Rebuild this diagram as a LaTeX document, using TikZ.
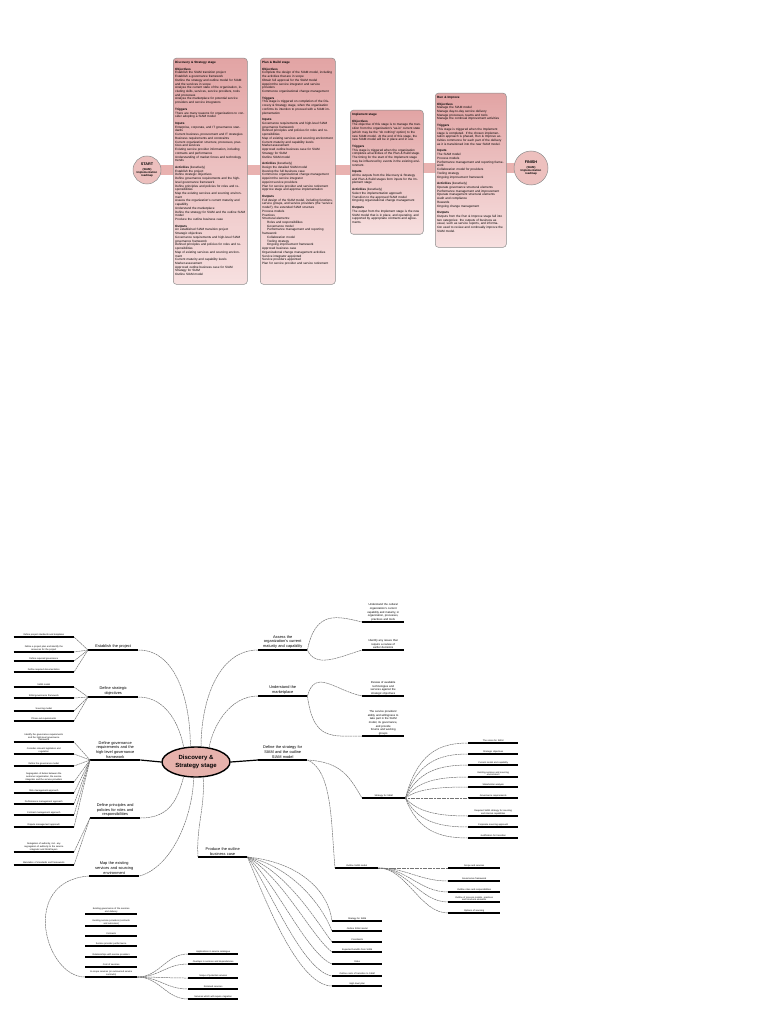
\documentclass[tikz,border=0pt]{standalone}
\usepackage{fontspec}
\setmainfont{Liberation Sans}
\usetikzlibrary{positioning, shapes.geometric, calc}
\pgfdeclarelayer{background}
\pgfsetlayers{background,main}

\definecolor{boxtop}{RGB}{226,164,164}
\definecolor{boxbot}{RGB}{247,224,224}
\definecolor{circfill}{RGB}{237,192,190}
\definecolor{bandfill}{RGB}{233,178,176}
\definecolor{hubfill}{RGB}{230,178,172}

\tikzset{
  stagebox/.style={draw=black!45, line width=0.5pt, rounded corners=3pt, top color=boxtop, bottom color=boxbot, anchor=north west, inner sep=0pt},
  stagetext/.style={anchor=north west, text width=#1, align=left, inner sep=0pt, font=\fontsize{3.1}{3.72}\selectfont},
  endpoint/.style={circle, draw=black!45, line width=0.5pt, fill=circfill, align=center, inner sep=0pt, font=\bfseries\fontsize{2.8}{3.3}\selectfont},
  band/.style={draw=black!40, line width=0.4pt, double=bandfill, double distance=10pt},
  link/.style={draw=black!55, line width=0.5pt, dash pattern=on 2pt off 0.6pt},
  uline/.style={draw=black, line width=1.6pt},
  subline/.style={draw=black, line width=1.3pt},
  topic/.style={text width=#1, align=center, inner xsep=0pt, inner ysep=1.2pt, font=\fontsize{3.9}{4.8}\selectfont, append after command={(\tikzlastnode.south west) edge[uline] (\tikzlastnode.south east)}},
  leaf/.style={text width=#1, align=center, inner xsep=0pt, inner ysep=0.9pt, font=\fontsize{2.3}{2.8}\selectfont, append after command={(\tikzlastnode.south west) edge[subline] (\tikzlastnode.south east)}},
  bigleaf/.style={leaf=#1, font=\fontsize{2.8}{3.6}\selectfont},
}

\begin{document}
\begin{tikzpicture}[x=1pt, y=-1pt]
    \begin{pgfonlayer}{background}
        \path[use as bounding box, fill=white] (0,0) rectangle (768,1024);
    \end{pgfonlayer}

    % Lộ trình: bốn giai đoạn
    \node[endpoint, minimum size=28pt] (start) at (147,170) {{\fontsize{3.8}{4.4}\selectfont START}\\[1.5pt](SIAM)\\Implementation\\roadmap};
    \node[stagebox, minimum width=74pt, minimum height=226pt] (ds) at (173,58) {};
    \node[stagebox, minimum width=75pt, minimum height=226pt] (pb) at (260,58) {};
    \node[stagebox, minimum width=73pt, minimum height=124pt] (im) at (350,110) {};
    \node[stagebox, minimum width=71pt, minimum height=154pt] (ri) at (435,93) {};
    \node[endpoint, minimum size=34pt] (finish) at (531,168) {{\fontsize{3.8}{4.4}\selectfont FINISH}\\[1.5pt](SIAM)\\Implementation\\roadmap};

    \begin{pgfonlayer}{background}
        \draw[band] (start.center) -- (start.center -| ds.center);
        \draw[band] (ds.center |- start.center) -- (pb.center |- start.center);
        \draw[band] (pb.center |- start.center) -- (im.center |- start.center);
        \draw[band] (im.center |- finish.center) -- (ri.center |- finish.center);
        \draw[band] (ri.center |- finish.center) -- (finish.center);
    \end{pgfonlayer}

    \node[stagetext=70pt] (dstext) at ([shift={(2,3)}]ds.north west) {\textbf{Discovery \& Strategy stage}\\[3pt]
        \textbf{Objectives}\\
        Establish the SIAM transition project\\
        Establish a governance framework\\
        Outline the strategy and outline model for SIAM and the services in scope\\
        Analyse the current state of the organization, including skills, services, service providers, tools and processes\\
        Analyse the marketplace for potential service providers and service integrators\\[3pt]
        \textbf{Triggers}\\
        There are many reasons for organizations to consider adopting a SIAM model\\[3pt]
        \textbf{Inputs}\\
        Enterprise, corporate, and IT governance standards\\
        Current business, procurement and IT strategies\\
        Business requirements and constraints\\
        Current organization structure, processes, practices and services\\
        Existing service provider information, including contracts and performance\\
        Understanding of market forces and technology trends\\[3pt]
        \textbf{Activities} (iteratively)\\
        Establish the project\\
        Define strategic objectives\\
        Define governance requirements and the high-level governance framework\\
        Define principles and policies for roles and responsibilities\\
        Map the existing services and sourcing environment\\
        Assess the organization's current maturity and capability\\
        Understand the marketplace\\
        Define the strategy for SIAM and the outline SIAM model\\
        Produce the outline business case\\[3pt]
        \textbf{Outputs}\\
        An established SIAM transition project\\
        Strategic objectives\\
        Governance requirements and high-level SIAM governance framework\\
        Defined principles and policies for roles and responsibilities\\
        Map of existing services and sourcing environment\\
        Current maturity and capability levels\\
        Market assessment\\
        Approved outline business case for SIAM\\
        Strategy for SIAM\\
        Outline SIAM model};

    \node[stagetext=71pt] (pbtext) at ([shift={(2,3)}]pb.north west) {\textbf{Plan \& Build stage}\\[3pt]
        \textbf{Objectives}\\
        Complete the design of the SIAM model, including the activities that are in scope\\
        Obtain full approval for the SIAM model\\
        Appoint the service integrator and service providers\\
        Commence organizational change management\\[3pt]
        \textbf{Triggers}\\
        This stage is triggered on completion of the Discovery \& Strategy stage, when the organization confirms its intention to proceed with a SIAM implementation\\[3pt]
        \textbf{Inputs}\\
        Governance requirements and high-level SIAM governance framework\\
        Defined principles and policies for roles and responsibilities\\
        Map of existing services and sourcing environment\\
        Current maturity and capability levels\\
        Market assessment\\
        Approved outline business case for SIAM\\
        Strategy for SIAM\\
        Outline SIAM model\\[3pt]
        \textbf{Activities} (iteratively)\\
        Design the detailed SIAM model\\
        Develop the full business case\\
        Commence organizational change management\\
        Appoint the service integrator\\
        Appoint service providers\\
        Plan for service provider and service retirement\\
        Approve stage and approve implementation\\[3pt]
        \textbf{Outputs}\\
        Full design of the SIAM model, including functions, service groups, and service providers (the ``service model''), the extended SIAM structure\\
        Process models\\
        Practices\\
        Structural elements:\\
        \hspace*{5pt}Roles and responsibilities\\
        \hspace*{5pt}Governance model\\
        \hspace*{5pt}Performance management and reporting framework\\
        \hspace*{5pt}Collaboration model\\
        \hspace*{5pt}Tooling strategy\\
        \hspace*{5pt}Ongoing improvement framework\\
        Approved business case\\
        Organizational change management activities\\
        Service integrator appointed\\
        Service providers appointed\\
        Plan for service provider and service retirement};

    \node[stagetext=69pt] (imtext) at ([shift={(2,3)}]im.north west) {\textbf{Implement stage}\\[3pt]
        \textbf{Objectives}\\
        The objective of this stage is to manage the transition from the organization's ``as-is'' current state (which may be the ``do nothing'' option) to the new SIAM model. At the end of this stage, the new SIAM model will be in place and in use.\\[3pt]
        \textbf{Triggers}\\
        This stage is triggered when the organization completes all activities of the Plan \& Build stage. The timing for the start of the Implement stage may be influenced by events in the existing environment.\\[3pt]
        \textbf{Inputs}\\
        All the outputs from the Discovery \& Strategy and Plan \& Build stages form inputs for the Implement stage\\[3pt]
        \textbf{Activities} (iteratively)\\
        Select the implementation approach\\
        Transition to the approved SIAM model\\
        Ongoing organizational change management\\[3pt]
        \textbf{Outputs}\\
        The output from the Implement stage is the new SIAM model that is in place, and operating, and supported by appropriate contracts and agreements.};

    \node[stagetext=67pt] (ritext) at ([shift={(2,3)}]ri.north west) {\textbf{Run \& Improve}\\[3pt]
        \textbf{Objectives}\\
        Manage the SIAM model\\
        Manage day-to-day service delivery\\
        Manage processes, teams and tools\\
        Manage the continual improvement activities\\[3pt]
        \textbf{Triggers}\\
        This stage is triggered when the Implement stage is completed. If the chosen implementation approach is phased, Run \& Improve activities commence for each part of the delivery as it is transitioned into the new SIAM model.\\[3pt]
        \textbf{Inputs}\\
        The SIAM model\\
        Process models\\
        Performance management and reporting framework\\
        Collaboration model for providers\\
        Tooling strategy\\
        Ongoing improvement framework\\[3pt]
        \textbf{Activities} (iteratively)\\
        Operate governance structural elements\\
        Performance management and improvement\\
        Operate management structural elements\\
        Audit and compliance\\
        Rewards\\
        Ongoing change management\\[3pt]
        \textbf{Outputs}\\
        Outputs from the Run \& Improve stage fall into two categories: the outputs of business as usual, such as service reports, and information used to review and continually improve the SIAM model.};

    % Sơ đồ tư duy: giai đoạn Discovery & Strategy
    \node[ellipse, draw, line width=1.4pt, fill=hubfill, minimum width=68pt, minimum height=30pt, inner sep=0pt, align=center, font=\bfseries\fontsize{6}{7.6}\selectfont] (hub) at (196,762) {Discovery \&\\Strategy stage};

    \node[topic=50pt, anchor=south west] (ep) at (88,650) {Establish the project};
    \node[topic=50pt, anchor=south west] (dso) at (88,697) {Define strategic\\objectives};
    \node[topic=50pt, anchor=south west] (dgr) at (90,760) {Define governance\\requirements and the\\high-level governance\\framework};
    \node[topic=50pt, anchor=south west] (dpp) at (90,818) {Define principles and\\policies for roles and\\responsibilities};
    \node[topic=50pt, anchor=south west] (mes) at (89,876) {Map the existing\\services and sourcing\\environment};
    \node[topic=49pt, anchor=south west] (aoc) at (258,650) {Assess the\\organization's current\\maturity and capability};
    \node[topic=49pt, anchor=south west] (utm) at (258,696) {Understand the\\marketplace};
    \node[topic=49pt, anchor=south west] (dsm) at (258,760) {Define the strategy for\\SIAM and the outline\\SIAM model};
    \node[topic=49pt, anchor=south west] (pob) at (198,857) {Produce the outline\\business case};

    \draw[link] (ep.south east) .. controls +(38,0) and +(0,-45) .. (hub.110);
    \draw[link] (dso.south east) .. controls +(28,0) and +(-4,-22) .. (hub.130);
    \draw[uline, line width=1.2pt] (dgr.south east) -- (hub.west);
    \draw[link] (dpp.south east) .. controls +(30,0) and +(-6,22) .. (hub.230);
    \draw[link] (mes.south east) .. controls +(30,-8) and +(-2,45) .. (hub.262);
    \draw[link] (pob.south west) .. controls +(-2,-30) and +(2,30) .. (hub.295);
    \draw[link] (aoc.south west) .. controls +(-40,0) and +(0,-45) .. (hub.72);
    \draw[link] (utm.south west) .. controls +(-28,0) and +(4,-22) .. (hub.48);
    \draw[uline, line width=1.2pt] (hub.east) -- (dsm.south west);

    % Establish the project
    \node[leaf=60pt, anchor=south east] (ep1) at (74,637) {Define project standards and templates};
    \node[leaf=60pt, anchor=south east] (ep2) at (74,652) {Define a project plan and identify the\\resources for the project};
    \node[leaf=60pt, anchor=south east] (ep3) at (74,661) {Define required governance};
    \node[leaf=60pt, anchor=south east] (ep4) at (74,672) {Define required documentation};
    \draw[link] (ep.south west) -- (ep1.south east);
    \draw[link] (ep.south west) -- (ep2.south east);
    \draw[link] (ep.south west) -- (ep3.south east);
    \draw[link] (ep.south west) -- (ep4.south east);

    % Define strategic objectives
    \node[leaf=60pt, anchor=south east] (so1) at (74,687) {SIAM model};
    \node[leaf=60pt, anchor=south east] (so2) at (74,698) {SIAM governance framework};
    \node[leaf=60pt, anchor=south east] (so3) at (74,711) {Sourcing model};
    \node[leaf=60pt, anchor=south east] (so4) at (74,721) {Phase-out requirements};
    \draw[link] (dso.south west) -- (so1.south east);
    \draw[link] (dso.south west) -- (so2.south east);
    \draw[link] (dso.south west) -- (so3.south east);
    \draw[link] (dso.south west) -- (so4.south east);

    % Define governance requirements
    \node[leaf=60pt, anchor=south east] (gr1) at (74,742) {Identify the governance requirements\\and the high-level governance\\framework};
    \node[leaf=60pt, anchor=south east] (gr2) at (74,754) {Consider relevant legislation and\\regulation};
    \node[leaf=60pt, anchor=south east] (gr3) at (74,766) {Define the governance model};
    \node[leaf=60pt, anchor=south east] (gr4) at (74,782) {Segregation of duties between the\\customer organization, the service\\integrator and the service providers};
    \node[leaf=60pt, anchor=south east] (gr5) at (74,793) {Risk management approach};
    \node[leaf=60pt, anchor=south east] (gr6) at (74,804) {Performance management approach};
    \node[leaf=60pt, anchor=south east] (gr7) at (74,815) {Contract management approach};
    \node[leaf=60pt, anchor=south east] (gr8) at (74,827) {Dispute management approach};
    \draw[link] (dgr.south west) -- (gr1.south east);
    \draw[link] (dgr.south west) -- (gr2.south east);
    \draw[link] (dgr.south west) -- (gr3.south east);
    \draw[link] (dgr.south west) -- (gr4.south east);
    \draw[link] (dgr.south west) -- (gr5.south east);
    \draw[link] (dgr.south west) -- (gr6.south east);
    \draw[link] (dgr.south west) -- (gr7.south east);
    \draw[link] (dgr.south west) -- (gr8.south east);

    % Define principles and policies
    \node[leaf=60pt, anchor=south east] (pp1) at (74,852) {Delegation of authority, incl. any\\segregation of authority to the service\\integrator and SIAM layers};
    \node[leaf=60pt, anchor=south east] (pp2) at (74,865) {Mandation of standards and frameworks};
    \draw[link] (dpp.south west) -- (pp1.south east);
    \draw[link] (dpp.south west) -- (pp2.south east);

    % Map the existing services
    \node[leaf=52pt, anchor=south west] (ms1) at (85,914) {Existing governance of the services\\and delivery};
    \node[leaf=52pt, anchor=south west] (ms2) at (85,926) {Existing service providers (contracts\\and outcomes)};
    \node[leaf=52pt, anchor=south west] (ms3) at (85,936) {Contracts};
    \node[leaf=52pt, anchor=south west] (ms4) at (85,946) {Service provider performance};
    \node[leaf=52pt, anchor=south west] (ms5) at (85,957) {Relationships with service providers};
    \node[leaf=52pt, anchor=south west] (ms6) at (85,967) {Cost of services};
    \node[leaf=52pt, anchor=south west] (isv) at (85,977) {In-scope services (or outsourced service\\contracts)};
    \draw[link] (mes.south west) .. controls +(-70,5) and +(-40,0) .. (isv.south west);

    \node[leaf=50pt, anchor=south west] (is1) at (188,954) {Applications in service catalogue};
    \node[leaf=50pt, anchor=south west] (is2) at (188,964) {Overlaps in services and dependencies};
    \node[leaf=50pt, anchor=south west] (is3) at (188,978) {Scope of potential services};
    \node[leaf=50pt, anchor=south west] (is4) at (188,989) {Retained services};
    \node[leaf=50pt, anchor=south west] (is5) at (188,999) {Services which will require migration};
    \draw[link] (isv.south east) .. controls +(22,0) and +(-22,0) .. (is1.south west);
    \draw[link] (isv.south east) .. controls +(22,0) and +(-22,0) .. (is2.south west);
    \draw[link] (isv.south east) .. controls +(22,0) and +(-22,0) .. (is3.south west);
    \draw[link] (isv.south east) .. controls +(22,0) and +(-22,0) .. (is4.south west);
    \draw[link] (isv.south east) .. controls +(22,0) and +(-22,0) .. (is5.south west);

    % Assess maturity and capability
    \node[bigleaf=42pt, anchor=south west] (ac1) at (362,622) {Understand the cultural\\organization's current\\capability and maturity, in\\organization, processes,\\practices and tools};
    \node[bigleaf=42pt, anchor=south west] (ac2) at (362,650) {Identify any issues that\\require a review of\\earlier decisions};
    \draw[link] (aoc.south east) .. controls +(8,-40) and +(-25,-6) .. (ac1.south west);
    \draw[link] (aoc.south east) .. controls +(8,18) and +(-25,8) .. (ac2.south west);

    % Understand the marketplace
    \node[bigleaf=42pt, anchor=south west] (um1) at (362,696) {Review of available\\technologies and\\services against the\\strategic objectives};
    \node[bigleaf=42pt, anchor=south west] (um2) at (362,736) {The service providers'\\ability and willingness to\\take part in the SIAM\\model, its governance,\\and provide\\forums and working\\groups};
    \draw[link] (utm.south east) .. controls +(8,-28) and +(-28,-6) .. (um1.south west);
    \draw[link] (utm.south east) .. controls +(6,45) and +(-30,0) .. (um2.south west);

    % Define the strategy and outline model
    \node[leaf=43pt, anchor=south west] (sfs) at (362,798) {Strategy for SIAM};
    \node[leaf=43pt, anchor=south west] (osm) at (335,868) {Outline SIAM model};
    \draw[link] (dsm.south east) .. controls +(35,2) and +(-12,-20) .. (sfs.south west);
    \draw[link] (dsm.south east) .. controls +(25,10) and +(-4,-45) .. (osm.south west);

    \node[leaf=50pt, anchor=south west] (sf1) at (468,743) {The vision for SIAM};
    \node[leaf=50pt, anchor=south west] (sf2) at (468,754) {Strategic objectives};
    \node[leaf=50pt, anchor=south west] (sf3) at (468,765) {Current model and capability};
    \node[leaf=50pt, anchor=south west] (sf4) at (468,777) {Existing services and sourcing\\environment};
    \node[leaf=50pt, anchor=south west] (sf5) at (468,787) {Stakeholder analysis};
    \node[leaf=50pt, anchor=south west] (sf6) at (468,798) {Governance requirements};
    \node[leaf=50pt, anchor=south west] (sf7) at (468,816) {Required SIAM strategy for sourcing\\and internal capabilities};
    \node[leaf=50pt, anchor=south west] (sf8) at (468,827) {Corporate sourcing approach};
    \node[leaf=50pt, anchor=south west] (sf9) at (468,838) {Justification for transition};
    \draw[link] (sfs.south east) .. controls +(12,-44) and +(-30,0) .. (sf1.south west);
    \draw[link] (sfs.south east) .. controls +(12,-35) and +(-30,0) .. (sf2.south west);
    \draw[link] (sfs.south east) .. controls +(12,-26) and +(-30,0) .. (sf3.south west);
    \draw[link] (sfs.south east) .. controls +(12,-17) and +(-30,0) .. (sf4.south west);
    \draw[link] (sfs.south east) .. controls +(12,-9) and +(-30,0) .. (sf5.south west);
    \draw[link] (sfs.south east) -- (sf6.south west);
    \draw[link] (sfs.south east) .. controls +(12,14) and +(-30,0) .. (sf7.south west);
    \draw[link] (sfs.south east) .. controls +(12,23) and +(-30,0) .. (sf8.south west);
    \draw[link] (sfs.south east) .. controls +(12,32) and +(-30,0) .. (sf9.south west);

    \node[leaf=52pt, anchor=south west] (om1) at (448,868) {Scope and services};
    \node[leaf=52pt, anchor=south west] (om2) at (448,881) {Governance framework};
    \node[leaf=52pt, anchor=south west] (om3) at (448,892) {Outline roles and responsibilities};
    \node[leaf=52pt, anchor=south west] (om4) at (448,902) {Outline of process models, practices\\and structural elements};
    \node[leaf=52pt, anchor=south west] (om5) at (448,913) {Options of sourcing};
    \draw[link] (osm.south east) .. controls +(28,0) and +(-28,0) .. (om1.south west);
    \draw[link] (osm.south east) .. controls +(28,0) and +(-28,0) .. (om2.south west);
    \draw[link] (osm.south east) .. controls +(28,0) and +(-28,0) .. (om3.south west);
    \draw[link] (osm.south east) .. controls +(28,0) and +(-28,0) .. (om4.south west);
    \draw[link] (osm.south east) .. controls +(28,0) and +(-28,0) .. (om5.south west);

    % Produce the outline business case
    \node[leaf=50pt, anchor=south west] (ob1) at (332,921) {Strategy for SIAM};
    \node[leaf=50pt, anchor=south west] (ob2) at (332,931) {Outline SIAM model};
    \node[leaf=50pt, anchor=south west] (ob3) at (332,942) {Constraints};
    \node[leaf=50pt, anchor=south west] (ob4) at (332,952) {Expected benefits from SIAM};
    \node[leaf=50pt, anchor=south west] (ob5) at (332,964) {Risks};
    \node[leaf=50pt, anchor=south west] (ob6) at (332,976) {Outline costs of transition to SIAM};
    \node[leaf=50pt, anchor=south west] (ob7) at (332,986) {High-level plan};
    \draw[link] (pob.south east) .. controls +(50,5) and +(-4,-32) .. (ob1.south west);
    \draw[link] (pob.south east) .. controls +(45,10) and +(-10,-26) .. (ob2.south west);
    \draw[link] (pob.south east) .. controls +(40,15) and +(-15,-20) .. (ob3.south west);
    \draw[link] (pob.south east) .. controls +(35,20) and +(-20,-15) .. (ob4.south west);
    \draw[link] (pob.south east) .. controls +(28,25) and +(-25,-10) .. (ob5.south west);
    \draw[link] (pob.south east) .. controls +(22,30) and +(-30,-5) .. (ob6.south west);
    \draw[link] (pob.south east) .. controls +(15,35) and +(-35,0) .. (ob7.south west);
\end{tikzpicture}
\end{document}
